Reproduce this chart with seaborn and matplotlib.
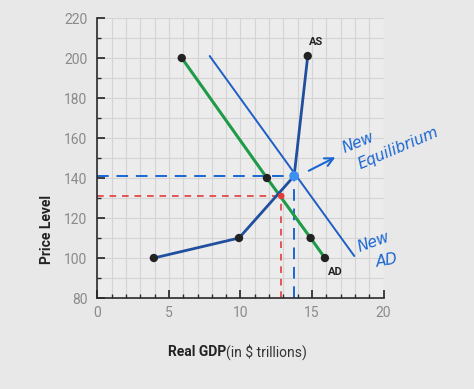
import seaborn as sns
import matplotlib.pyplot as plt
from matplotlib.ticker import MultipleLocator

# curves (GDP in $ trillions, price level)
as_gdp = [3.95, 9.9, 13.75, 14.7]
as_price = [100, 110, 141, 201]
ad_gdp = [5.9, 11.85, 14.9, 15.9]
ad_price = [200, 140, 110, 100]
new_ad_gdp = [7.85, 17.95]
new_ad_price = [201, 101]

old_eq = (12.85, 131)
new_eq = (13.75, 141)

sns.set_theme(style="ticks")
plt.rcParams['font.family'] = ['Roboto', 'DejaVu Sans']

fig = plt.figure(figsize=(4.74, 3.89), dpi=100, facecolor='#e8e8e8')
ax = fig.add_axes([0.2053, 0.2339, 0.6040, 0.7198])
ax.set_facecolor('#ececec')

# grid every 1 unit / 10 points
ax.xaxis.set_major_locator(MultipleLocator(5))
ax.xaxis.set_minor_locator(MultipleLocator(1))
ax.yaxis.set_major_locator(MultipleLocator(20))
ax.yaxis.set_minor_locator(MultipleLocator(10))
ax.grid(which='both', color='#d4d4d4', lw=0.8)
ax.set_axisbelow(True)

# dashed guides
blue = '#1a66d2'
red = '#e23b3b'
ax.plot([0, new_eq[0]], [new_eq[1], new_eq[1]], color=blue, lw=1.4, ls=(0, (6, 4)))
ax.plot([new_eq[0], new_eq[0]], [80, new_eq[1]], color=blue, lw=1.4, ls=(0, (6, 4)))
ax.plot([0, old_eq[0]], [old_eq[1], old_eq[1]], color=red, lw=1.2, ls=(0, (4, 3.5)))
ax.plot([old_eq[0], old_eq[0]], [80, old_eq[1]], color=red, lw=1.2, ls=(0, (4, 3.5)))

# curves
sns.lineplot(x=ad_gdp, y=ad_price, sort=False, color='#1f9a48', lw=2.2, ax=ax)
sns.lineplot(x=new_ad_gdp, y=new_ad_price, sort=False, color='#1d5fc4', lw=1.4, ax=ax)
sns.lineplot(x=as_gdp, y=as_price, sort=False, color='#1f4f9e', lw=2.0, ax=ax)

dots_x = [as_gdp[0], as_gdp[1], as_gdp[3]] + ad_gdp
dots_y = [as_price[0], as_price[1], as_price[3]] + ad_price
sns.scatterplot(x=dots_x, y=dots_y, color='#222222', s=36, edgecolor='none', ax=ax, zorder=5)
sns.scatterplot(x=[new_eq[0]], y=[new_eq[1]], color='#3d90f2', s=50, edgecolor='none', ax=ax, zorder=6)
sns.scatterplot(x=[old_eq[0]], y=[old_eq[1]], color=red, s=22, edgecolor='none', ax=ax, zorder=6)

ax.text(15.3, 208, 'AS', fontsize=8, fontweight='bold', color='#222222', ha='center', va='center')
ax.text(16.6, 93, 'AD', fontsize=8, fontweight='bold', color='#222222', ha='center', va='center')

# handwritten notes
hand = dict(color=blue, fontstyle='italic', fontsize=11, ha='center', va='center',
            clip_on=False, family=['DejaVu Sans'])
ax.text(18.2, 157.5, 'New', rotation=22, **hand)
ax.text(21.0, 155, 'Equilibrium', rotation=23, **hand)
ax.text(19.3, 108, 'New', rotation=20, **hand)
ax.text(20.2, 98.5, 'AD', rotation=10, **hand)
ax.annotate('', xy=(16.8, 151), xytext=(14.6, 143), annotation_clip=False,
            arrowprops=dict(arrowstyle='->', color=blue, lw=1.5, mutation_scale=15))

ax.set_xlim(0, 20)
ax.set_ylim(80, 220)
for side in ['top', 'right']:
    ax.spines[side].set_visible(False)
for side in ['left', 'bottom']:
    ax.spines[side].set_color('#2a2a2a')
    ax.spines[side].set_linewidth(1.2)
ax.tick_params(which='both', direction='in', color='#2a2a2a', labelcolor='#8a8a8a',
               labelsize=10)
ax.tick_params(which='major', length=6, pad=7)
ax.tick_params(axis='x', which='major', pad=6)
ax.tick_params(which='minor', length=3)

fig.text(0.099, 0.41, 'Price Level', rotation=90, fontsize=10, fontweight='bold',
         color='#222222', ha='center', va='center')
fig.text(0.477, 0.095, 'Real GDP', fontsize=10, fontweight='bold', color='#222222',
         ha='right', va='center')
fig.text(0.477, 0.095, '(in $ trillions)', fontsize=10, color='#333333',
         ha='left', va='center')

fig.savefig('out.png', dpi=100, facecolor=fig.get_facecolor())
